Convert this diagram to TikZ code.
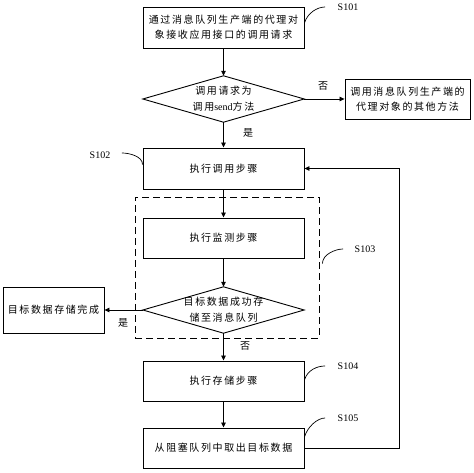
\documentclass[tikz,border=0pt]{standalone}
\usepackage{fontspec}
\setmainfont{Liberation Serif}
\newfontfamily\cjk[LetterSpace=16]{Noto Sans CJK SC}
\usepackage{tikz}
\usetikzlibrary{arrows.meta,positioning,calc}

\begin{document}
\begin{tikzpicture}[
          x=1pt, y=1pt,
          stepbox/.style={draw, line width=0.9pt, minimum width=161pt, minimum height=41pt, inner sep=0pt, align=center, font=\cjk\fontsize{10}{15}\selectfont},
          decision/.style={minimum width=161pt, minimum height=46pt, inner sep=0pt, align=center, font=\cjk\fontsize{10}{16}\selectfont},
          frame/.style={draw, line width=0.9pt, dash pattern=on 7pt off 4pt, minimum width=184pt, minimum height=141pt},
          flow/.style={draw, line width=0.8pt, -{Triangle[length=5pt,width=4.5pt]}},
          lead/.style={draw, line width=0.7pt},
          tag/.style={font=\fontsize{10}{12}\selectfont},
          lbl/.style={font=\cjk\fontsize{10}{12}\selectfont}
      ]
        \useasboundingbox (0,0) rectangle (474,473);

        % main column
        \node[stepbox] (s101) at (223.5,445.5) {通过消息队列生产端的代理对\\象接收应用接口的调用请求};
        \node[decision] (d1) at (223.5,374) {调用请求为\\调用{\rmfamily send}方法};
        \node[stepbox, minimum width=125pt, minimum height=40pt] (other) at (407.5,374) {调用消息队列生产端的\\代理对象的其他方法};
        \node[stepbox] (s102) at (223.5,304.5) {执行调用步骤};
        \node[frame] (grp) at (227,205.5) {};
        \node[stepbox, minimum height=40pt] (s103) at (223.5,235) {执行监测步骤};
        \node[decision] (d2) at (223.5,163) {目标数据成功存\\储至消息队列};
        \node[stepbox, minimum width=101pt, minimum height=46pt] (done) at (53.5,163) {目标数据存储完成};
        \node[stepbox, minimum height=40pt] (s104) at (223.5,92) {执行存储步骤};
        \node[stepbox, minimum height=40pt] (s105) at (223.5,25) {从阻塞队列中取出目标数据};

        \foreach \d in {d1,d2} {
          \draw[line width=0.9pt] (\d.north) -- (\d.east) -- (\d.south) -- (\d.west) -- cycle;
        }

        % arrows
        \draw[flow] (s101) -- (d1.north);
        \draw[flow] (d1.east) -- (other);
        \draw[flow] (d1.south) -- (s102);
        \draw[flow] (s102) -- (s103);
        \draw[flow] (s103) -- (d2.north);
        \draw[flow] (d2.west) -- (done);
        \draw[flow] (d2.south) -- (s104);
        \draw[flow] (s104) -- (s105);
        \draw[flow] (s105.east) -- ++(95,0) |- (s102.east);

        \node[lbl] (no1) at (323,387) {否};
        \node[lbl] (yes1) at (248,340) {是};
        \node[lbl] (yes2) at (123,150) {是};
        \node[lbl] (no2) at (245,127) {否};

        % step tags
        \node[tag] (t101) at (348,466) {S101};
        \node[tag] (t102) at (100,318) {S102};
        \node[tag] (t103) at (365,224) {S103};
        \node[tag] (t104) at (348,107) {S104};
        \node[tag] (t105) at (348,55) {S105};

        \draw[lead] ($(s101.east)+(0,4.5)$) .. controls +(3,10) and +(-8,0) .. ($(t101.west)+(-9,0)$);
        \draw[lead] ($(t102.east)+(8,2)$) .. controls +(8,0) and +(0,8) .. ($(s102.west)+(0,4)$);
        \draw[lead] ($(grp.east)+(3,4)$) .. controls +(0,9) and +(-8,0) .. ($(t103.west)+(-8,0)$);
        \draw[lead] ($(s104.east)+(0,1)$) .. controls +(3,10) and +(-8,0) .. ($(t104.west)+(-9,0)$);
        \draw[lead] ($(s105.east)+(0,11)$) .. controls +(3,10) and +(-8,0) .. ($(t105.west)+(-9,0)$);
      \end{tikzpicture}
\end{document}
